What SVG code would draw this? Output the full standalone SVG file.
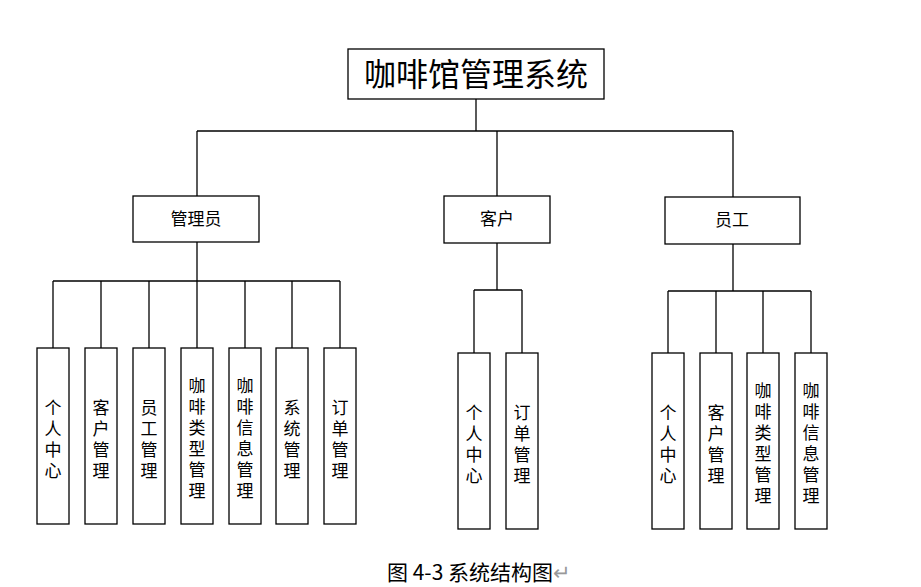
<svg xmlns="http://www.w3.org/2000/svg" width="921" height="587" viewBox="0 0 921 587">
<style>
rect{fill:#fff;stroke:#000;stroke-width:1.3}
.c line{stroke:#000;stroke-width:1.3}
text{font-family:"Noto Sans CJK SC","Liberation Sans",sans-serif;fill:#000;text-anchor:middle}
.v{font-size:17px}
.m{font-size:17px}
</style>
<rect width="921" height="587" style="stroke:none"/>
<g class="c">
<line x1="476" y1="99" x2="476" y2="131"/><line x1="197" y1="131" x2="733" y2="131"/>
<line x1="197" y1="131" x2="197" y2="196"/><line x1="497" y1="131" x2="497" y2="196"/><line x1="733" y1="131" x2="733" y2="197"/>
<line x1="197" y1="242" x2="197" y2="281"/><line x1="53" y1="281" x2="340" y2="281"/>
<line x1="53" y1="281" x2="53" y2="348"/><line x1="101" y1="281" x2="101" y2="348"/><line x1="149" y1="281" x2="149" y2="348"/><line x1="197" y1="281" x2="197" y2="348"/><line x1="245" y1="281" x2="245" y2="348"/><line x1="292" y1="281" x2="292" y2="348"/><line x1="340" y1="281" x2="340" y2="348"/>
<line x1="497" y1="243" x2="497" y2="290"/><line x1="474" y1="290" x2="522" y2="290"/><line x1="474" y1="290" x2="474" y2="353"/><line x1="522" y1="290" x2="522" y2="353"/>
<line x1="733" y1="244" x2="733" y2="291"/><line x1="668" y1="291" x2="811" y2="291"/>
<line x1="668" y1="291" x2="668" y2="353"/><line x1="716" y1="291" x2="716" y2="353"/><line x1="763" y1="291" x2="763" y2="353"/><line x1="811" y1="291" x2="811" y2="353"/>
</g>
<g id="root"><rect x="348" y="49" width="256" height="50"/><text x="476" y="86" style="font-size:32px">咖啡馆管理系统</text></g>
<g id="n1"><rect x="133" y="196" width="126" height="46"/><text class="m" x="196" y="225">管理员</text></g>
<g id="n2"><rect x="444" y="196" width="106" height="47"/><text class="m" x="497" y="225">客户</text></g>
<g id="n3"><rect x="665" y="197" width="135" height="47"/><text class="m" x="732" y="226">员工</text></g>
<g id="a1"><rect x="37" y="348" width="32" height="176"/><text class="v" x="53" y="414">个</text><text class="v" x="53" y="435">人</text><text class="v" x="53" y="456">中</text><text class="v" x="53" y="477">心</text></g>
<g id="a2"><rect x="85" y="348" width="32" height="176"/><text class="v" x="101" y="414">客</text><text class="v" x="101" y="435">户</text><text class="v" x="101" y="456">管</text><text class="v" x="101" y="477">理</text></g>
<g id="a3"><rect x="133" y="348" width="32" height="176"/><text class="v" x="149" y="414">员</text><text class="v" x="149" y="435">工</text><text class="v" x="149" y="456">管</text><text class="v" x="149" y="477">理</text></g>
<g id="a4"><rect x="181" y="348" width="32" height="176"/><text class="v" x="197" y="392">咖</text><text class="v" x="197" y="413">啡</text><text class="v" x="197" y="434">类</text><text class="v" x="197" y="455">型</text><text class="v" x="197" y="476">管</text><text class="v" x="197" y="497">理</text></g>
<g id="a5"><rect x="229" y="348" width="32" height="176"/><text class="v" x="245" y="392">咖</text><text class="v" x="245" y="413">啡</text><text class="v" x="245" y="434">信</text><text class="v" x="245" y="455">息</text><text class="v" x="245" y="476">管</text><text class="v" x="245" y="497">理</text></g>
<g id="a6"><rect x="276" y="348" width="32" height="176"/><text class="v" x="292" y="414">系</text><text class="v" x="292" y="435">统</text><text class="v" x="292" y="456">管</text><text class="v" x="292" y="477">理</text></g>
<g id="a7"><rect x="324" y="348" width="32" height="176"/><text class="v" x="340" y="414">订</text><text class="v" x="340" y="435">单</text><text class="v" x="340" y="456">管</text><text class="v" x="340" y="477">理</text></g>
<g id="b1"><rect x="458" y="353" width="32" height="176"/><text class="v" x="474" y="419">个</text><text class="v" x="474" y="440">人</text><text class="v" x="474" y="461">中</text><text class="v" x="474" y="482">心</text></g>
<g id="b2"><rect x="506" y="353" width="32" height="176"/><text class="v" x="522" y="419">订</text><text class="v" x="522" y="440">单</text><text class="v" x="522" y="461">管</text><text class="v" x="522" y="482">理</text></g>
<g id="c1"><rect x="652" y="353" width="32" height="176"/><text class="v" x="668" y="419">个</text><text class="v" x="668" y="440">人</text><text class="v" x="668" y="461">中</text><text class="v" x="668" y="482">心</text></g>
<g id="c2"><rect x="700" y="353" width="32" height="176"/><text class="v" x="716" y="419">客</text><text class="v" x="716" y="440">户</text><text class="v" x="716" y="461">管</text><text class="v" x="716" y="482">理</text></g>
<g id="c3"><rect x="747" y="353" width="32" height="176"/><text class="v" x="763" y="397">咖</text><text class="v" x="763" y="418">啡</text><text class="v" x="763" y="439">类</text><text class="v" x="763" y="460">型</text><text class="v" x="763" y="481">管</text><text class="v" x="763" y="502">理</text></g>
<g id="c4"><rect x="795" y="353" width="32" height="176"/><text class="v" x="811" y="397">咖</text><text class="v" x="811" y="418">啡</text><text class="v" x="811" y="439">信</text><text class="v" x="811" y="460">息</text><text class="v" x="811" y="481">管</text><text class="v" x="811" y="502">理</text></g>
<text x="479" y="580" style="font-size:21px" xml:space="preserve">图 4-3 系统结构图<tspan fill="#999">↵</tspan></text>
</svg>
